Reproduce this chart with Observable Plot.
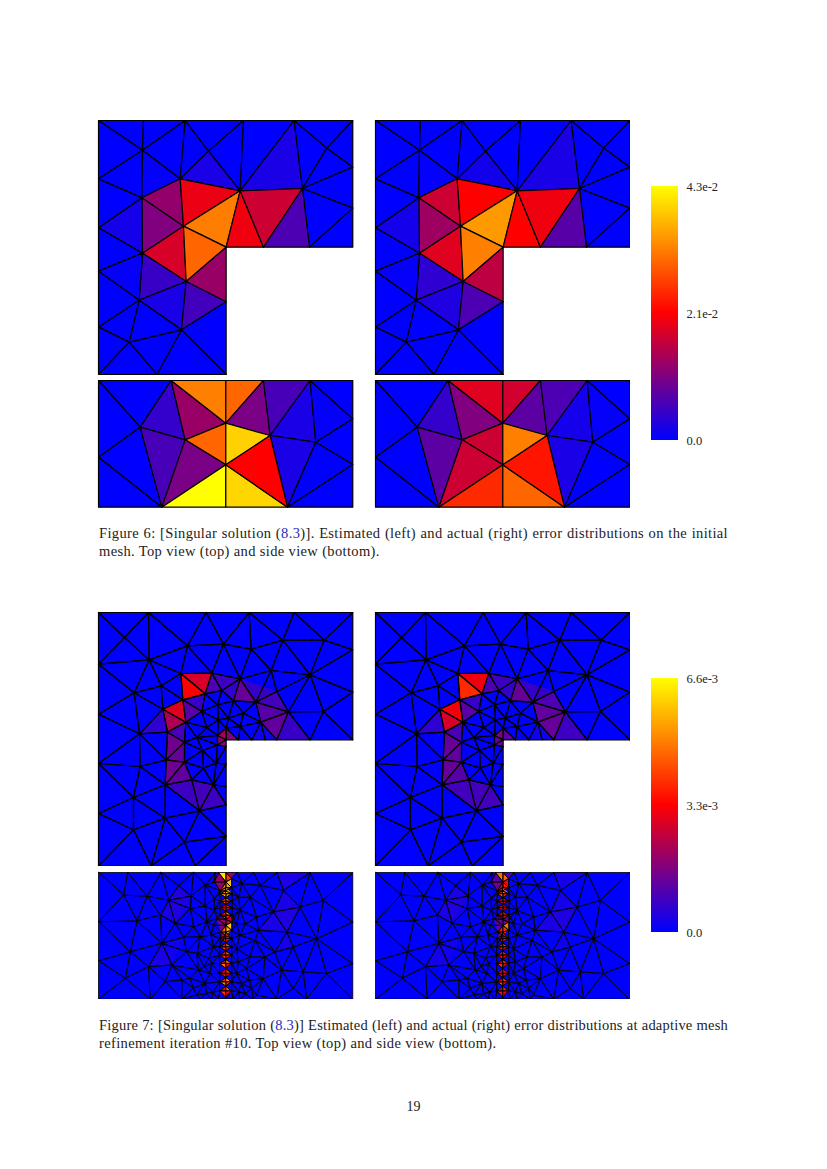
<!DOCTYPE html>
<html><head><meta charset="utf-8">
<script src="https://cdn.jsdelivr.net/npm/d3@7"></script>
<script src="https://cdn.jsdelivr.net/npm/@observablehq/plot@0.6"></script>
<style>
html,body{margin:0;padding:0;background:#fff}
#page{position:relative;width:827px;height:1169px;overflow:hidden;font-family:"Liberation Serif",serif;color:#222}
#page>div{position:absolute}
.panel svg{display:block;background:transparent}
.cap{font-size:14.5px;letter-spacing:.36px;line-height:17.6px;left:99px;width:629px}
.cap .l1{display:block;text-align:justify;text-align-last:justify;white-space:nowrap}
.cap .ref{color:#2a2ac0}
</style></head><body><div id="page"></div>
<script>
// ---------- Figure 6: initial mesh, top view (vertices)
const v6Top = {A:[25,30],B:[160,30],C:[285,30],D:[460,30],E:[612,30],F:[788,30],
 L1:[25,205],L2:[25,352],L3:[25,482],L4:[25,650],L5:[25,792],
 R1:[788,170],R2:[788,293],R3:[788,410],
 N0:[408,410],N1:[520,410],N2:[658,410],N3:[408,574],N4:[408,792],B1:[200,792],
 a:[157,119],b:[355,122],c:[710,113],d:[270,205],e:[155,262],f:[450,241],g:[637,234],
 h:[280,347],i:[157,428],j:[288,513],k:[147,569],l:[274,658],m:[117,695]};
// triangle, estimated fraction of max, actual fraction of max
const t6Top = [
 ["A B a",0,0],["B C a",0,0],["C a d",0,0],["C b d",0,0],["C D b",0,0],["D b f",0,0],["D E f",0,0],
 ["E f g",.05,.05],["E c g",0,0],["E F c",0,0],["F c R1",0,0],["c R1 g",0,0],["g R1 R2",0,0],
 ["g R2 N2",0,0],["R2 R3 N2",0,0],["A a L1",0,0],["L1 a e",0,0],["a d e",.005,.005],["d b f",.05,.035],
 ["d e h",.29,.4],["d h f",.46,.5],["e h i",.25,.31],["e i L2",.04,.04],["e L1 L2",0,0],["L2 i L3",0,0],
 ["h f N0",.745,.8],["f N0 N1",.47,.5],["f N1 g",.4,.47],["g N1 N2",.15,.17],["h i j",.42,.44],
 ["h j N0",.7,.75],["j N0 N3",.3,.37],["i j k",.11,.09],["i k L3",.01,.01],["L3 k L4",0,0],
 ["k j l",.05,.06],["j N3 l",.13,.15],["N3 l N4",0,0],["l N4 B1",0,0],["l m B1",0,0],["k l m",0,0],
 ["k m L4",0,0],["L4 m L5",0,0],["L5 m B1",0,0]];
// ---------- Figure 6: initial mesh, side view
const v6Side = {A:[25,15],B:[243,15],C:[407,15],D:[520,15],E:[660,15],F:[788,15],
 L1:[25,245],L2:[25,395],R1:[788,130],R2:[788,267],R3:[788,395],
 G:[215,395],H:[407,395],I:[592,395],
 p:[150,155],q:[285,193],r:[407,143],s:[407,268],t:[540,180],u:[677,200]};
const t6Side = [
 ["A B p",0,0],["A p L1",0,0],["p L1 G",0,0],["L1 L2 G",0,0],["B p q",.1,.1],["B q r",.3,.25],
 ["B C r",.75,.44],["C D r",.7,.41],["D r t",.24,.18],["D E t",.14,.15],["E t u",.05,.04],
 ["E u R1",.01,.01],["E F R1",0,0],["u R1 R2",0,0],["t u I",.05,.05],["u I R2",0,0],["I R3 R2",0,0],
 ["p q G",.14,.18],["q r s",.7,.4],["r s t",.91,.75],["q s G",.24,.4],["G s H",1,.58],
 ["s H I",.92,.7],["s t I",.5,.54]];

// ---------- Figure 7: iteration #10, top view
const v7Top = [
 [25,23],[175,23],[348,23],[477,23],[612,23],[788,23],
 [25,178],[25,328],[25,476],[25,626],[25,783],
 [788,135],[788,262],[788,405],
 [183,783],[315,783],[408,783],
 [408,405],[408,425],[408,478],[408,545],[408,600],[408,695],
 [445,405],[485,405],[525,405],[560,405],[660,405],
 [103,98],[292,123],[400,118],[483,133],[578,106],[702,106],
 [177,165],[272,206],[365,205],[450,222],[543,197],[660,210],
 [132,264],[213,243],[345,267],[395,257],[560,260],[700,320],
 [278,285],[218,313],[497,292],[595,321],
 [287,352],[232,382],[148,387],[512,352],
 [228,465],[150,485],[283,472],[225,540],[305,525],[370,540],
 [130,578],[328,618],[225,640],[130,675],[283,712],
 [335,320],[382,300],[430,288],[460,325],[415,340],[385,345],[450,365],
 [350,368],[408,370],[382,392],[320,398],[283,412],[337,437],[382,420],[378,475],[340,490]];
const h7Top = [ // hot triangles: x1,y1,x2,y2,x3,y3, estimated, actual
 [272,206,365,205,345,267,.42,.47],[272,206,345,267,278,285,.5,.58],
 [218,313,278,285,287,352,.44,.48],[218,313,287,352,232,382,.34,.42],
 [278,285,345,267,335,320,.11,.11],[278,285,335,320,287,352,.17,.17],
 [365,205,345,267,395,257,.15,.15],[365,205,395,257,450,222,.12,.12],[395,257,450,222,430,288,.1,.1],
 [450,222,497,292,430,288,.2,.2],[450,222,497,292,560,260,.11,.11],[497,292,560,260,595,321,.13,.15],
 [497,292,595,321,512,352,.17,.19],[512,352,595,321,560,405,.19,.2],[595,321,560,405,660,405,.11,.12],
 [512,352,560,405,485,405,.03,.03],[218,313,232,382,148,387,.09,.09],[232,382,287,352,283,412,.14,.14],
 [232,382,283,412,228,465,.22,.2],[283,412,283,472,228,465,.2,.19],[228,465,283,472,225,540,.22,.2],
 [283,472,305,525,225,540,.19,.17],[225,540,305,525,328,618,.12,.13],[305,525,370,540,328,618,.13,.13],
 [370,540,408,600,328,618,.12,.13],[305,525,340,490,370,540,.01,.01],
 [382,392,408,370,408,405,.33,.25],[408,370,445,405,408,405,.25,.18],[382,392,408,405,408,425,.3,.22],
 [382,392,408,425,382,420,.28,.22]];

// ---------- Figure 7: iteration #10, side view
const v7SideEdge = [[25,17],[112,17],[212,17],[310,17],[375,17],[385,17],[407,17],[440,17],[490,17],[560,17],[660,17],[788,17],
 [25,165],[25,282],[25,397],[788,165],[788,290],[788,397],
 [180,397],[275,397],[330,397],[365,397],[385,397],[407,397],[430,397],[450,397],[490,397],[560,397],[650,397]];
const v7SideLeft = [[100,85],[170,88],[265,57],[235,100],[303,88],[345,55],[140,162],[210,145],[300,125],[345,118],
 [255,170],[310,180],[350,165],[215,230],[120,255],[280,212],[330,210],[362,205],[245,295],[175,300],[105,335],
 [225,345],[275,340],[320,260],[355,275],[290,255],[325,310],[360,320],[310,365],[345,350],[365,290],[370,240],
 [370,175],[372,130],[372,95],[350,380],[320,385],[368,375],[342,300],[300,335]];
const v7SideRight = [[455,50],[510,55],[580,70],[700,100],[480,90],[550,135],[630,120],[450,130],[500,150],[590,195],
 [680,215],[465,170],[505,190],[450,205],[495,220],[555,255],[440,245],[480,270],[520,335],[575,310],[640,315],
 [710,320],[610,365],[470,305],[445,285],[440,320],[485,365],[455,350],[525,270],[445,90],[440,170],[465,380],
 [445,375],[478,340],[500,385],[610,240]];
const v7SideHex = [[372,45],[424,35],[424,62],[405,72],[390,72],[380,155],[405,150],[430,150],[425,165],[425,190],[405,205],[392,195],[398,218]];
const columnCentreY = [45,80,103,122,145,175,215,240,265,290,320,345,372];
const columnApexY   = [62,92,112,133,158,195,228,252,278,305,332,358,392];
const beadEst = [[80,.9,.85,.75,.8],[103,.72,.65,.58,.62],[122,.58,.52,.48,.52],[145,.75,.7,.55,.58],[215,.6,.65,.48,.52],
 [240,.7,.65,.5,.55],[265,.66,.58,.5,.52],[290,.78,.72,.5,.5],[320,.58,.55,.45,.45],
 [345,.78,.8,.55,.55],[372,.65,.6,.5,.5]];
const beadAct = [[80,.75,.68,.58,.58],[103,.52,.5,.45,.48],[122,.5,.48,.42,.45],[145,.56,.52,.45,.45],[215,.5,.52,.42,.44],
 [240,.56,.54,.44,.46],[265,.54,.5,.44,.46],[290,.6,.58,.42,.42],[320,.5,.48,.4,.4],
 [345,.6,.62,.45,.45],[372,.55,.52,.44,.44]];
const h7Side = [ // hot triangles near the boundary and pale blocks: x1,y1,x2,y2,x3,y3, estimated, actual
 [385,17,407,17,407,45,.95,.72],[407,17,440,17,407,45,.3,.16],[372,45,385,17,407,45,.3,.18],
 [372,45,407,45,390,72,.3,.22],[407,45,424,35,424,62,.88,.5],[407,45,424,62,405,72,.82,.55],
 [407,45,405,72,390,72,.75,.5],[407,45,424,35,407,17,.62,.7],[390,72,405,72,424,62,.3,.2],
 [380,155,405,150,407,175,.28,.2],[405,150,430,150,407,175,.36,.18],[380,155,407,175,392,195,.25,.18],
 [407,175,425,165,425,190,.9,.72],[407,175,425,190,405,205,.85,.6],[392,195,407,175,405,205,.72,.55],
 [392,195,405,205,398,218,.26,.2],[430,150,425,165,407,175,.5,.45],
 [235,100,265,57,303,88,.06,.05],[235,100,303,88,255,170,.06,.06],[210,145,235,100,255,170,.05,.05],[303,88,300,125,255,170,.03,.03],
 [560,17,660,17,580,70,.05,.04],[580,70,630,120,550,135,.05,.04],[550,135,630,120,590,195,.06,.06],
 [505,190,590,195,550,135,.05,.05],[555,255,610,240,590,195,.04,.03],
 [175,300,245,295,215,230,.05,.04],[215,230,280,212,245,295,.03,.03]];

// ---------- colour scale and page layout
const ramp = ["#0000ff","#ff0000","#ffff00"];
const fig6Max = 0.043, fig7Max = 0.0066;
const fig6Ticks = ["0.0","2.1e-2","4.3e-2"], fig7Ticks = ["0.0","3.3e-3","6.6e-3"];
const lineWidth = 1.2;

const page = document.getElementById("page");
const triRows = (tris, v, max, col) => tris.flatMap((t,id) => t[0].split(" ").map(k => ({id,x:v[k][0],y:v[k][1],v:t[col]*max})));
const colorOf = max => ({type:"linear",domain:[0,max/2,max],range:ramp,interpolate:"rgb",clamp:true});
function place(node,left,top,cls){const d=document.createElement("div");d.className=cls||"panel";d.style.left=left+"px";d.style.top=top+"px";d.appendChild(node);page.appendChild(d);}
function base(xd,yd,w,h,max,marks){return Plot.plot({width:w+2,height:h+2,margin:1,x:{domain:xd,axis:null},y:{domain:yd,axis:null},color:colorOf(max),marks});}
const tri = (rows,opt)=>Plot.line(rows,{x:"x",y:"y",z:"id",curve:"linear-closed",...opt});

function explicitPanel(left,top,h,v,tris,col,max,xd,yd){
  place(base(xd,yd,254.3,h,max,[tri(triRows(tris,v,max,col),{fill:"v",stroke:"#000",strokeWidth:lineWidth,strokeLinejoin:"round"})]),left-1,top-1);
}
function rowsFromDelaunay(points,keep){
  const d=d3.Delaunay.from(points), out=[]; let id=0;
  for(let i=0;i<d.triangles.length;i+=3){
    const p=[d.triangles[i],d.triangles[i+1],d.triangles[i+2]].map(k=>points[k]);
    const cx=d3.mean(p,q=>q[0]), cy=d3.mean(p,q=>q[1]);
    const area=Math.abs((p[1][0]-p[0][0])*(p[2][1]-p[0][1])-(p[2][0]-p[0][0])*(p[1][1]-p[0][1]));
    if(area<2||!keep(cx,cy)) continue;
    p.forEach(q=>out.push({id,x:q[0],y:q[1],v:0})); id++;
  }
  return out;
}
const hotRows=(h,col,max)=>h.flatMap((r,id)=>[0,2,4].map(i=>({id,x:r[i],y:r[i+1],v:r[col]*max})));
function meshPanel(left,top,h,pts,keep,hot,col,max,xd,yd,sw){
  const mesh=rowsFromDelaunay(pts,keep);
  place(base(xd,yd,254.3,h,max,[
    tri(mesh,{fill:"v"}),
    tri(hotRows(hot,col,max),{fill:"v",stroke:"none"}),
    tri(mesh,{stroke:"#000",strokeWidth:sw,fill:"none",strokeLinejoin:"round"})
  ]),left-1,top-1);
}
function colorbar(top,max,labels){
  const levels=d3.range(0,256).map(i=>i/256*max);
  const fig=Plot.plot({width:110,height:264,marginLeft:0,marginRight:83,marginTop:5,marginBottom:5,
    x:{domain:[0,1],axis:null},y:{domain:[0,max]},color:colorOf(max),
    marks:[
      Plot.rect(levels,{x1:0,x2:1,y1:d=>d,y2:d=>d+max/255,fill:d=>d,shapeRendering:"crispEdges"}),
      Plot.axisY({anchor:"right",ticks:[0,max/2,max],tickSize:0,tickPadding:8,label:null,
        tickFormat:(d,i)=>labels[i],fontSize:12.5,fontFamily:"Liberation Serif",fill:"#222",style:{letterSpacing:"1.9px"}})
    ]});
  fig.style.overflow="visible";
  place(fig,651,top-5);
}
function caption(top,a,ref,b,line2,spacing){
  const d=document.createElement("div");d.className="cap";d.style.top=top+"px";
  const l1=document.createElement("span");l1.className="l1";l1.style.letterSpacing=spacing+"px";
  l1.append(a);const r=document.createElement("span");r.className="ref";r.textContent=ref;l1.append(r,b);
  d.append(l1,line2);page.appendChild(d);
}

// Figure 6
explicitPanel(98.3,120,254,v6Top,t6Top,1,fig6Max,[25,788],[792,30]);
explicitPanel(374.7,120,254,v6Top,t6Top,2,fig6Max,[25,788],[792,30]);
explicitPanel(98.3,380,126.7,v6Side,t6Side,1,fig6Max,[25,788],[395,15]);
explicitPanel(374.7,380,126.7,v6Side,t6Side,2,fig6Max,[25,788],[395,15]);
colorbar(186,fig6Max,fig6Ticks);
caption(525,"Figure 6: [Singular solution (","8.3",")]. Estimated (left) and actual (right) error distributions on the initial","mesh. Top view (top) and side view (bottom).",.36);

// Figure 7
const notch=(x,y)=>!(x>408&&y>405);
meshPanel(98.3,611.7,253.3,v7Top,notch,h7Top,6,fig7Max,[25,788],[783,23],lineWidth);
meshPanel(374.7,611.7,253.3,v7Top,notch,h7Top,7,fig7Max,[25,788],[783,23],lineWidth);
const beadFlank=columnCentreY.filter(y=>y!==45&&y!==175);
const sidePts=[...v7SideEdge,...v7SideLeft,...v7SideRight,...v7SideHex,
  ...columnCentreY.map(y=>[407,y]),
  ...columnApexY.map(y=>[407,y]),
  ...beadFlank.flatMap(y=>[[389,y],[425,y]])];
const beadRows=b=>b.flatMap(([y,tT,tB,tL,tR])=>{
  const k=columnCentreY.indexOf(y), up=columnApexY[k-1], dn=columnApexY[k];
  return [[407,y,407,up,425,y,tT],[407,y,407,dn,389,y,tB],[407,y,407,up,389,y,tL],[407,y,407,dn,425,y,tR]];
});
const est=[...h7Side.map(r=>[...r.slice(0,6),r[6]]),...beadRows(beadEst)];
const act=[...h7Side.map(r=>[...r.slice(0,6),r[7]]),...beadRows(beadAct)];
meshPanel(98.3,871.7,126.7,sidePts,()=>true,est,6,fig7Max,[25,788],[397,17],.8);
meshPanel(374.7,871.7,126.7,sidePts,()=>true,act,6,fig7Max,[25,788],[397,17],.8);
colorbar(678,fig7Max,fig7Ticks);
caption(1017,"Figure 7: [Singular solution (","8.3",")] Estimated (left) and actual (right) error distributions at adaptive mesh","refinement iteration #10. Top view (top) and side view (bottom).",.2);

// page number
const pn=document.createElement("div");pn.style.cssText="left:0;width:827px;text-align:center;top:1099px;font-size:14px";pn.textContent="19";page.appendChild(pn);
</script></body></html>
